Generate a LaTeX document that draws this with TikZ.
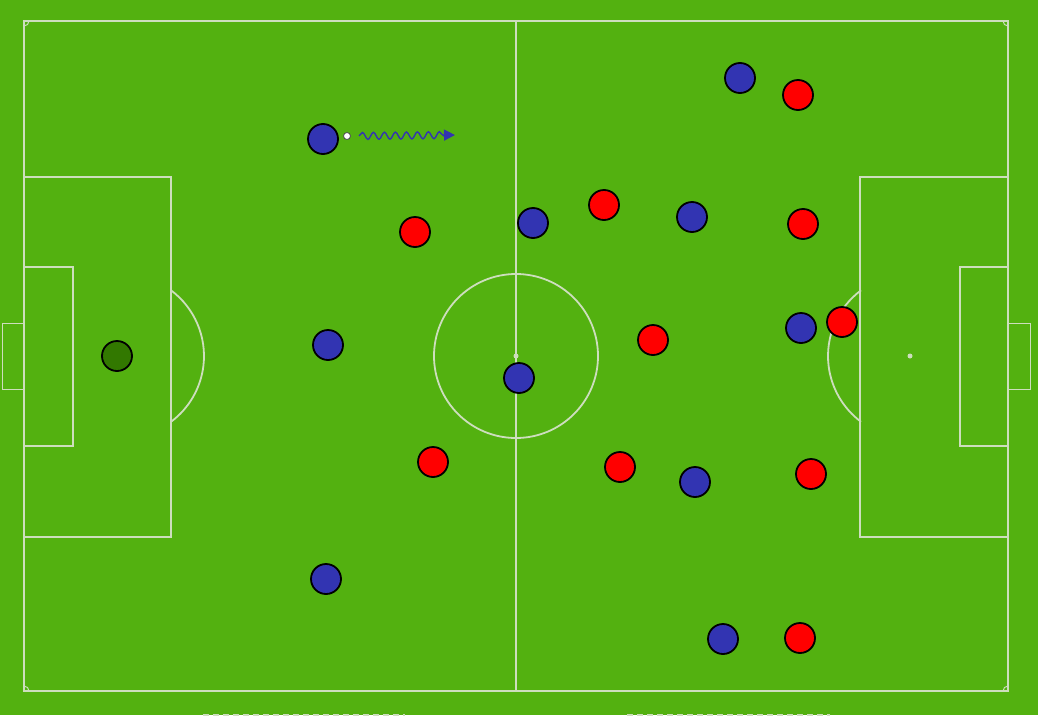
\documentclass[tikz,border=0pt]{standalone}
\usetikzlibrary{arrows.meta,decorations.pathmorphing}
\definecolor{grass}{RGB}{83,177,16}
\definecolor{chalk}{RGB}{205,222,190}
\definecolor{teamblue}{RGB}{50,52,178}
\definecolor{teamred}{RGB}{255,0,0}
\definecolor{keeper}{RGB}{50,120,0}
\tikzset{
pitchline/.style={draw=chalk, line width=1.8pt},
thinline/.style={draw=chalk, line width=1pt},
blue/.style={circle, minimum size=30pt, inner sep=0pt, draw=black, line width=1.8pt, fill=teamblue},
red/.style={circle, minimum size=30pt, inner sep=0pt, draw=black, line width=1.8pt, fill=teamred},
gk/.style={circle, minimum size=30pt, inner sep=0pt, draw=black, line width=1.8pt, fill=keeper},
ballnode/.style={circle, minimum size=7pt, inner sep=0pt, draw=black!70, line width=0.8pt, fill=white},
run/.style={draw=teamblue, line width=1.4pt, -{Triangle[length=11pt,width=11pt]},
  decorate, decoration={snake, amplitude=3.5pt, segment length=11pt, post length=12pt}}}

\begin{document}
\begin{tikzpicture}[x=1pt,y=-1pt]
\fill[grass] (0,0) rectangle (1038,715);
\useasboundingbox (0,0) rectangle (1038,715);

% pitch
\draw[pitchline] (24,21) rectangle (1008,691);
\draw[pitchline] (516,21) -- (516,691);
\draw[pitchline] (516,356) circle (82);
\fill[chalk] (516,356) circle (2.5);
\draw[pitchline] (24,177) rectangle (171,537);
\draw[pitchline] (24,267) rectangle (73,446);
\draw[thinline] (24,323) -- (2,323) -- (2,389) -- (24,389);
\draw[pitchline] (171,290.3) arc (-53.3:53.3:82);
\fill[chalk] (122,356) circle (2.5);
\draw[pitchline] (860,177) rectangle (1008,537);
\draw[pitchline] (960,267) rectangle (1008,446);
\draw[thinline] (1008,323) -- (1030,323) -- (1030,389) -- (1008,389);
\draw[pitchline] (861,290.3) arc (233.3:126.7:82);
\fill[chalk] (910,356) circle (2.5);
% corners
\draw[thinline] (29,21) arc (0:90:5);
\draw[thinline] (1003,21) arc (180:90:5);
\draw[thinline] (24,686) arc (-90:0:5);
\draw[thinline] (1003,691) arc (180:270:5);
% boards below the pitch
\draw[chalk, line width=3pt, dash pattern=on 6pt off 4pt] (203,715) -- (405,715);
\draw[chalk, line width=3pt, dash pattern=on 6pt off 4pt] (627,715) -- (830,715);

% players
\node (gkl) [gk] at (117,356) {};
\node (b1) [blue] at (740,78) {};
\node (b2) [blue] at (323,139) {};
\node (b3) [blue] at (533,223) {};
\node (b4) [blue] at (692,217) {};
\node (b5) [blue] at (328,345) {};
\node (b6) [blue] at (519,378) {};
\node (b7) [blue] at (801,328) {};
\node (b8) [blue] at (695,482) {};
\node (b9) [blue] at (326,579) {};
\node (b10) [blue] at (723,639) {};
\node (r1) [red] at (798,95) {};
\node (r2) [red] at (415,232) {};
\node (r3) [red] at (604,205) {};
\node (r4) [red] at (803,224) {};
\node (r5) [red] at (653,340) {};
\node (r6) [red] at (842,322) {};
\node (r7) [red] at (433,462) {};
\node (r8) [red] at (620,467) {};
\node (r9) [red] at (811,474) {};
\node (r10) [red] at (800,638) {};

% ball and run
\node (ball) [ballnode] at (347,136) {};
\coordinate (runstart) at (359,136);
\coordinate (runend) at (455,135);
\draw[run] (runstart) -- (runend);
\end{tikzpicture}
\end{document}
